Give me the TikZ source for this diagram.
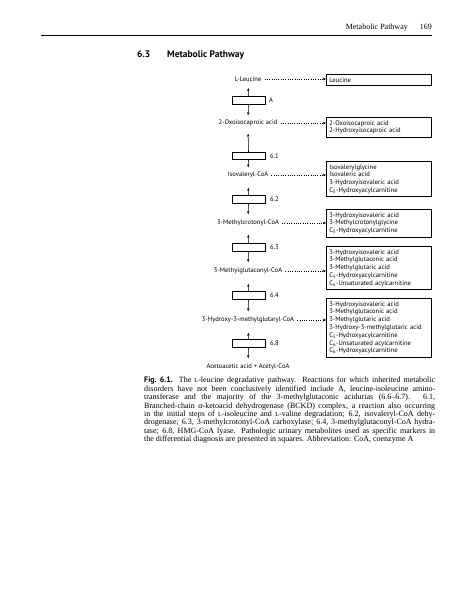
\documentclass[tikz,border=0pt]{standalone}
\usepackage{fontspec}
\setmainfont{Liberation Serif}
\newfontfamily\dg{PT Sans}
\usetikzlibrary{arrows.meta,calc}
\newcommand\scL{{\fontsize{6.2}{8}\selectfont L}}
\newcommand\dfont{\dg\fontsize{6.6}{7.8}\selectfont}
\begin{document}
\begin{tikzpicture}[x=1pt,y=-1pt,
  met/.style={font=\dfont, inner sep=0.5pt},
  enz/.style={draw, line width=0.7pt, minimum width=33pt, minimum height=7.5pt, inner sep=0pt},
  enzlab/.style={font=\dfont, anchor=west, inner sep=0pt},
  mbox/.style={draw, line width=0.7pt, anchor=north west, text width=99pt, align=left, inner xsep=3pt, inner ysep=3pt, font=\dfont},
  rx/.style={-{Stealth[length=3pt,width=2.4pt]}, line width=0.55pt},
  dotarrow/.style={-{Stealth[length=3.2pt,width=2.8pt]}, line width=0.55pt, dash pattern=on 0.6pt off 1.7pt, shorten <=2.5pt}
]
\useasboundingbox (0,0) rectangle (474,594);
% running header
\node[anchor=base east, font=\fontsize{8}{9}\selectfont, inner sep=0pt] (hd) at (408,30) {Metabolic Pathway};
\node[anchor=base east, font=\fontsize{8}{9}\selectfont, inner sep=0pt] (pg) at (432,30) {169};
\coordinate (rl) at (41,35);
\coordinate (rr) at (432,35);
\draw[line width=0.8pt] (rl) -- (rr);
% section title
\node[anchor=base west, font=\dg\bfseries\fontsize{9.5}{11}\selectfont, inner sep=0pt] (sn) at (137,57) {6.3};
\node[anchor=base west, font=\dg\bfseries\fontsize{9.5}{11}\selectfont, inner sep=0pt] (st) at (167,57) {Metabolic Pathway};
% metabolites
\node[met] (leu) at (248,79) {L-Leucine};
\node[met] (oxo) at (248,123) {2-Oxoisocaproic acid};
\node[met] (iso) at (248,175) {Isovaleryl-CoA};
\node[met] (cro) at (248,223) {3-Methylcrotonyl-CoA};
\node[met] (glu) at (248,271) {3-Methylglutaconyl-CoA};
\node[met] (hmg) at (248,320) {3-Hydroxy-3-methylglutaryl-CoA};
\node[met] (ace) at (248,367) {Acetoacetic acid + Acetyl-CoA};
% enzyme boxes
\node[enz] (eA) at (248.5,100.5) {};
\node[enz] (e1) at (248.5,156) {};
\node[enz] (e2) at (248.5,199.5) {};
\node[enz] (e3) at (248.5,247.5) {};
\node[enz] (e4) at (248.5,295.5) {};
\node[enz] (e8) at (248.5,343.5) {};
\node[enzlab] (lA) at (269,100.5) {A};
\node[enzlab] (l1) at (270,156) {6.1};
\node[enzlab] (l2) at (270,199.5) {6.2};
\node[enzlab] (l3) at (270,247.5) {6.3};
\node[enzlab] (l4) at (270,295.5) {6.4};
\node[enzlab] (l8) at (270,343.5) {6.8};
% reaction arrows
\draw[rx, shorten >=6pt] (eA.north) -- (leu.south);
\draw[rx, shorten >=4pt] (eA.south) -- (oxo.north);
\draw[rx, shorten >=7pt] (e1.north) -- (oxo.south);
\draw[rx, shorten >=4pt] (e1.south) -- (iso.north);
\draw[rx, shorten >=9pt] (e2.north) -- (iso.south);
\draw[rx, shorten >=5pt] (e2.south) -- (cro.north);
\draw[rx, shorten >=8pt] (e3.north) -- (cro.south);
\draw[rx, shorten >=5pt] (e3.south) -- (glu.north);
\draw[rx, shorten >=9pt] (e4.north) -- (glu.south);
\draw[rx, shorten >=5pt] (e4.south) -- (hmg.north);
\draw[rx, shorten >=9pt] (e8.north) -- (hmg.south);
\draw[rx, shorten >=5pt] (e8.south) -- (ace.north);
% marker boxes
\node[mbox] (bLeu) at (326,74) {Leucine};
\node[mbox] (bOxo) at (326,117) {2-Oxoisocaproic acid\\2-Hydroxyisocaproic acid};
\node[mbox] (bIso) at (326,161) {Isovalerylglycine\\Isovaleric acid\\3-Hydroxyisovaleric acid\\C\textsubscript{5}-Hydroxyacylcarnitine};
\node[mbox] (bCro) at (326,209) {3-Hydroxyisovaleric acid\\3-Methylcrotonylglycine\\C\textsubscript{5}-Hydroxyacylcarnitine};
\node[mbox] (bGlu) at (326,246) {3-Hydroxyisovaleric acid\\3-Methylglutaconic acid\\3-Methylglutaric acid\\C\textsubscript{5}-Hydroxyacylcarnitine\\C\textsubscript{6}-Unsaturated acylcarnitine};
\node[mbox] (bHmg) at (326,298) {3-Hydroxyisovaleric acid\\3-Methylglutaconic acid\\3-Methylglutaric acid\\3-Hydroxy-3-methylglutaric acid\\C\textsubscript{5}-Hydroxyacylcarnitine\\C\textsubscript{6}-Unsaturated acylcarnitine\\C\textsubscript{6}-Hydroxyacylcarnitine};
% dotted links
\draw[dotarrow] (leu.east) -- (leu.east -| bLeu.west);
\draw[dotarrow] (oxo.east) -- (oxo.east -| bOxo.west);
\draw[dotarrow] (iso.east) -- (iso.east -| bIso.west);
\draw[dotarrow] (cro.east) -- (cro.east -| bCro.west);
\draw[dotarrow] (glu.east) -- (glu.east -| bGlu.west);
\draw[dotarrow] (hmg.east) -- (hmg.east -| bHmg.west);
% caption
\node[anchor=north west, inner sep=0pt, text width=291pt, align=justify,
      font=\fontsize{8}{8.4}\selectfont] (cap) at (144,377)
 {\hyphenpenalty=10000\exhyphenpenalty=10000\tolerance=10000
 {\dg\bfseries Fig.~6.1.} The \scL-leucine degradative pathway. Reactions for which inherited metabolic\linebreak
 disorders have not been conclusively identified include A, leucine-isoleucine amino-\linebreak
 transferase and the majority of the 3-methylglutaconic acidurias (6.6--6.7). 6.1,\linebreak
 Branched-chain \textit{α}-ketoacid dehydrogenase (BCKD) complex, a reaction also occurring\linebreak
 in the initial steps of \scL-isoleucine and \scL-valine degradation; 6.2, isovaleryl-CoA dehy-\linebreak
 drogenase; 6.3, 3-methylcrotonyl-CoA carboxylase; 6.4, 3-methylglutaconyl-CoA hydra-\linebreak
 tase; 6.8, HMG-CoA lyase. Pathologic urinary metabolites used as specific markers in\linebreak
 the differential diagnosis are presented in squares. Abbreviation: CoA, coenzyme A};
\end{tikzpicture}
\end{document}
